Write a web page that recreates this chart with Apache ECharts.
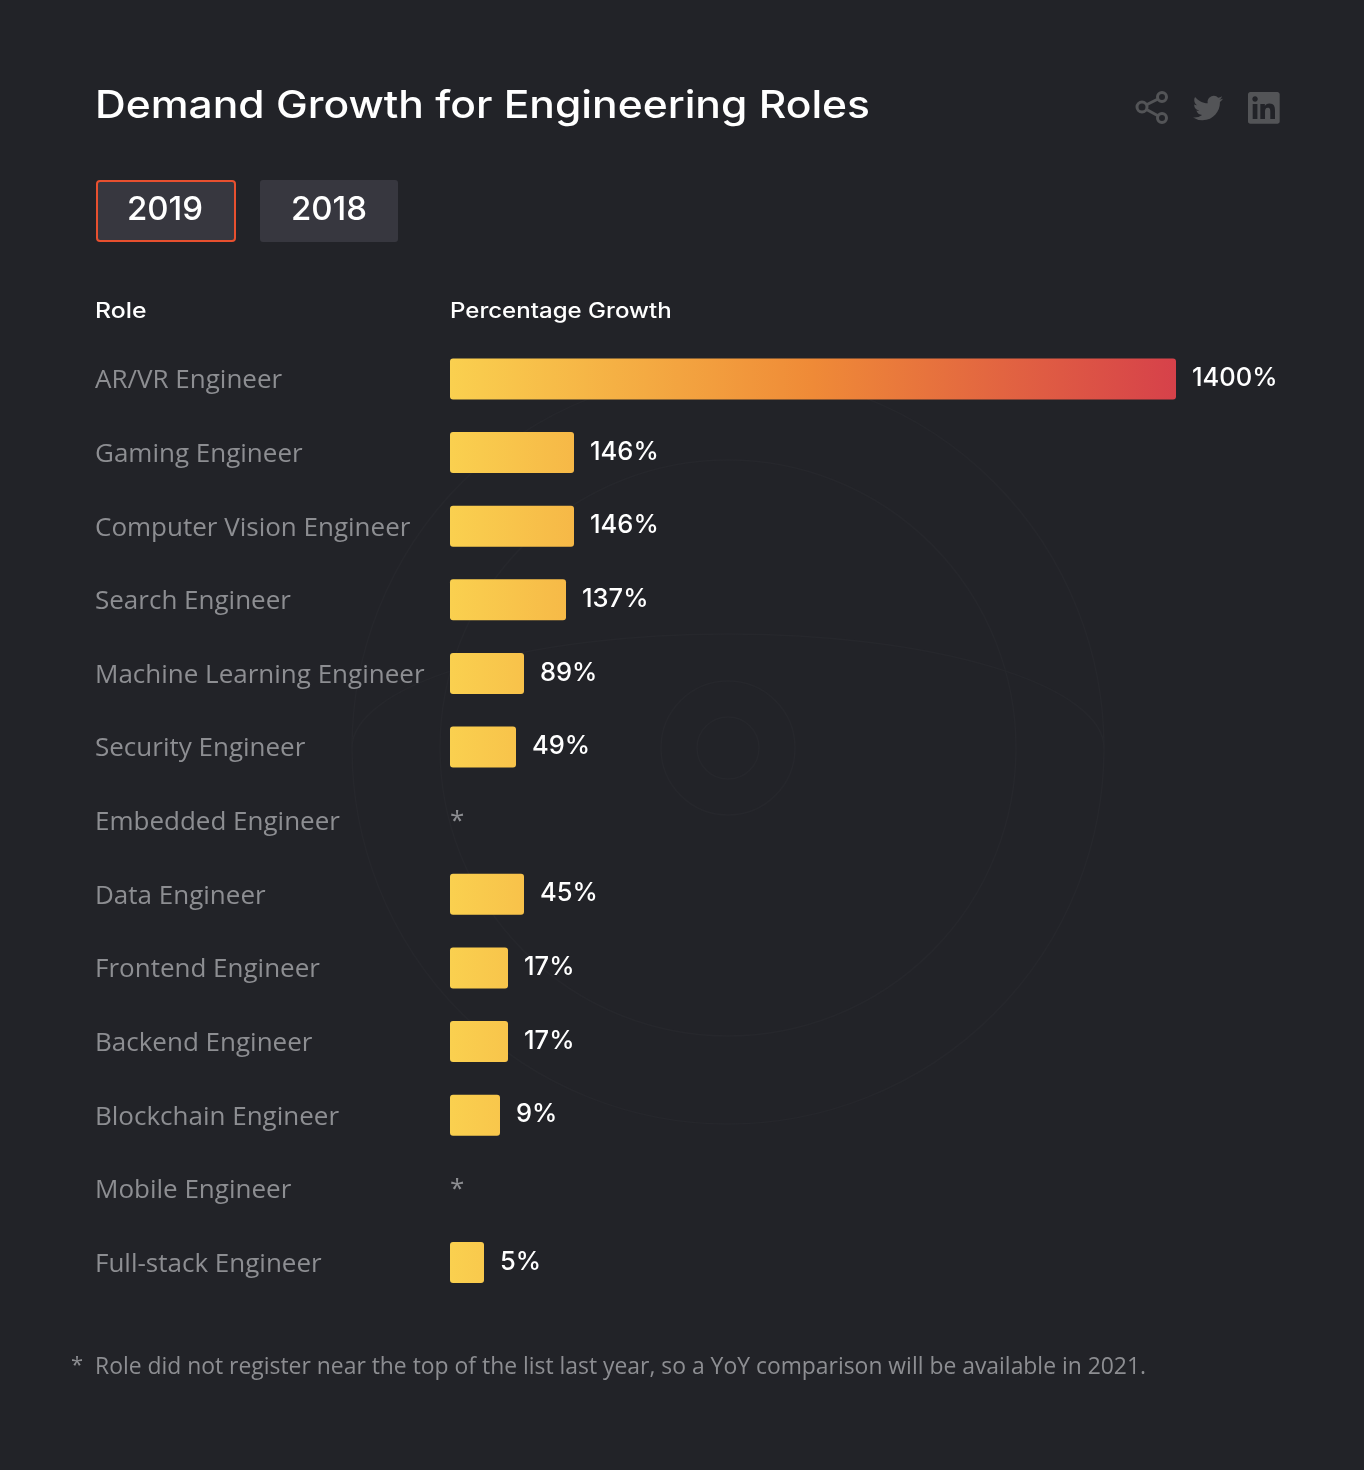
<!DOCTYPE html>
<html lang="en">
<head>
    <meta charset="UTF-8">
    <title>Demand Growth for Engineering Roles</title>
    <script src="https://cdnjs.cloudflare.com/ajax/libs/echarts/6.0.0/echarts.min.js"></script>
    <style>
        * { margin: 0; padding: 0; box-sizing: border-box; }
        body { background: #222328; }
        #chart { width: 1364px; height: 1470px; }
    </style>
</head>
<body>
    <div id="chart"></div>

    <script>
        const roles = ['AR/VR Engineer', 'Gaming Engineer', 'Computer Vision Engineer', 'Search Engineer',
            'Machine Learning Engineer', 'Security Engineer', 'Embedded Engineer', 'Data Engineer',
            'Frontend Engineer', 'Backend Engineer', 'Blockchain Engineer', 'Mobile Engineer', 'Full-stack Engineer'];
        // drawn bar lengths do not follow the printed percentages, so both are kept
        const barLengths = [726, 124, 124, 116, 74, 66, 0, 74, 58, 58, 50, 0, 34];
        const growthLabels = ['1400%', '146%', '146%', '137%', '89%', '49%', '*', '45%', '17%', '17%', '9%', '*', '5%'];
        const years = ['2019', '2018'];

        const TITLE_FONT = 'Inter, "Noto Sans", sans-serif';
        const BODY_FONT = '"Open Sans", "Noto Sans", sans-serif';
        const GREY = '#8d8e92';
        const ICON = '#535457';
        const RING = '#26272c';

        const TWITTER = 'M23.953 4.57a10 10 0 0 1 -2.825.775 4.958 4.958 0 0 0 2.163-2.723c-.951.555-2.005.959-3.127 1.184a4.92 4.92 0 0 0 -8.384 4.482C7.69 8.095 4.067 6.13 1.64 3.162a4.822 4.822 0 0 0 -.666 2.475c0 1.71.87 3.213 2.188 4.096a4.904 4.904 0 0 1 -2.228-.616v.06a4.923 4.923 0 0 0 3.946 4.827 4.996 4.996 0 0 1 -2.212.085 4.936 4.936 0 0 0 4.604 3.417 9.867 9.867 0 0 1 -6.102 2.105c-.39 0-.779-.023-1.17-.067a13.995 13.995 0 0 0 7.557 2.209c9.053 0 13.998-7.496 13.998-13.985 0-.21 0-.42-.015-.63A9.935 9.935 0 0 0 24 4.59z';
        const LINKEDIN = 'M20.447 20.452h-3.554v-5.569c0-1.328-.027-3.037-1.852-3.037-1.853 0-2.136 1.445-2.136 2.939v5.667H9.351V9h3.414v1.561h.046c.477-.9 1.637-1.85 3.37-1.85 3.601 0 4.267 2.37 4.267 5.455v6.286zM5.337 7.433c-1.144 0-2.063-.926-2.063-2.065 0-1.138.92-2.063 2.063-2.063 1.14 0 2.064.925 2.064 2.063 0 1.139-.925 2.065-2.064 2.065zm1.782 13.019H3.555V9h3.564v11.452zM22.225 0H1.771C.792 0 0 .774 0 1.729v20.542C0 23.227.792 24 1.771 24h20.451C23.2 24 24 23.227 24 22.271V1.729C24 .774 23.2 0 22.222 0h.003z';

        // the graphic component has no pathData element, so register the svg paths as shapes
        echarts.graphic.registerShape('twitterIcon', echarts.graphic.extendPath(TWITTER, {}));
        echarts.graphic.registerShape('linkedinIcon', echarts.graphic.extendPath(LINKEDIN, {}));
        echarts.graphic.registerShape('ringArc', echarts.graphic.extendPath('M352 748A376 114 0 0 1 1104 748', {}));

        // stretch: the installed fonts are narrower than the original geometric face
        function label(x, y, text, font, fill, align, stretch) {
            return { type: 'text', x: x, y: y, scaleX: stretch || 1,
                style: { text: text, font: font, fill: fill, align: align || 'left', verticalAlign: 'middle' } };
        }
        function ring(r) {
            return { type: 'circle', shape: { cx: 728, cy: 748, r: r }, style: { fill: 'none', stroke: RING, lineWidth: 1.5 }, silent: true };
        }

        const shareIcon = [
            { type: 'line', shape: { x1: 1142, y1: 107, x2: 1162, y2: 97 }, style: { stroke: ICON, lineWidth: 3 } },
            { type: 'line', shape: { x1: 1142, y1: 107, x2: 1162, y2: 118 }, style: { stroke: ICON, lineWidth: 3 } },
            { type: 'circle', shape: { cx: 1142, cy: 107, r: 5 }, style: { fill: '#222328', stroke: ICON, lineWidth: 3 } },
            { type: 'circle', shape: { cx: 1162, cy: 97, r: 4.5 }, style: { fill: '#222328', stroke: ICON, lineWidth: 3 } },
            { type: 'circle', shape: { cx: 1162, cy: 118, r: 4.5 }, style: { fill: '#222328', stroke: ICON, lineWidth: 3 } }
        ];

        const barColor = new echarts.graphic.LinearGradient(450, 0, 1176, 0, [
            { offset: 0, color: '#fad04f' },
            { offset: 0.5, color: '#ef8a37' },
            { offset: 1, color: '#d6414a' }
        ], true);

        const myChart = echarts.init(document.getElementById('chart'), null, { width: 1364, height: 1470 });

        myChart.setOption({
            backgroundColor: '#222328',
            animation: false,
            grid: { left: 450, top: 342.2, width: 726, height: 957 },
            xAxis: { type: 'value', min: 0, max: 726, show: false },
            yAxis: {
                type: 'category',
                data: roles,
                inverse: true,
                axisLine: { show: false },
                axisTick: { show: false },
                axisLabel: {
                    align: 'left',
                    margin: 355,
                    formatter: v => '{role|' + v + '}',
                    rich: { role: { fontFamily: BODY_FONT, fontSize: 26, color: GREY, padding: [4, 0, 0, 0] } }
                }
            },
            series: [{
                type: 'bar',
                barWidth: 41,
                z: 3,
                itemStyle: { color: barColor, borderRadius: 3 },
                data: barLengths.map((v, i) => {
                    const isStar = growthLabels[i] === '*';
                    return {
                        value: v,
                        label: {
                            show: true,
                            position: 'right',
                            distance: isStar ? 0 : 16,
                            formatter: growthLabels[i],
                            color: isStar ? GREY : '#ffffff',
                            fontFamily: isStar ? BODY_FONT : TITLE_FONT,
                            fontWeight: isStar ? 'normal' : 500,
                            fontSize: isStar ? 26 : 25.5,
                            offset: [0, isStar ? 1 : -0.5]
                        }
                    };
                })
            }],
            graphic: [
                ring(31), ring(67), ring(288), ring(376),
                { type: 'ringArc', style: { fill: 'none', stroke: RING, lineWidth: 1.5 }, silent: true },
                label(95, 107, 'Demand Growth for Engineering Roles', '500 38px ' + TITLE_FONT, '#ffffff', 'left', 1.12),
                ...shareIcon,
                { type: 'twitterIcon', x: 1193, y: 93, scaleX: 1.25, scaleY: 1.25, style: { fill: ICON } },
                { type: 'linkedinIcon', x: 1248, y: 92, scaleX: 1.32, scaleY: 1.32, style: { fill: ICON } },
                { type: 'rect', shape: { x: 97, y: 181, width: 138, height: 60, r: 3 }, style: { fill: '#37373f', stroke: '#e8502f', lineWidth: 2 } },
                { type: 'rect', shape: { x: 260, y: 180, width: 138, height: 62, r: 3 }, style: { fill: '#37373f' } },
                label(165, 210, years[0], '500 33px ' + TITLE_FONT, '#ffffff', 'center'),
                label(329, 210, years[1], '500 33px ' + TITLE_FONT, '#ffffff', 'center'),
                label(95, 312, 'Role', '500 21px ' + TITLE_FONT, '#ffffff', 'left', 1.18),
                label(450, 312, 'Percentage Growth', '500 21px ' + TITLE_FONT, '#ffffff', 'left', 1.145),
                label(71, 1366, '*', '22px ' + BODY_FONT, GREY),
                label(95, 1367, 'Role did not register near the top of the list last year, so a YoY comparison will be available in 2021.', '22.9px ' + BODY_FONT, GREY)
            ]
        });
    </script>
</body>
</html>
